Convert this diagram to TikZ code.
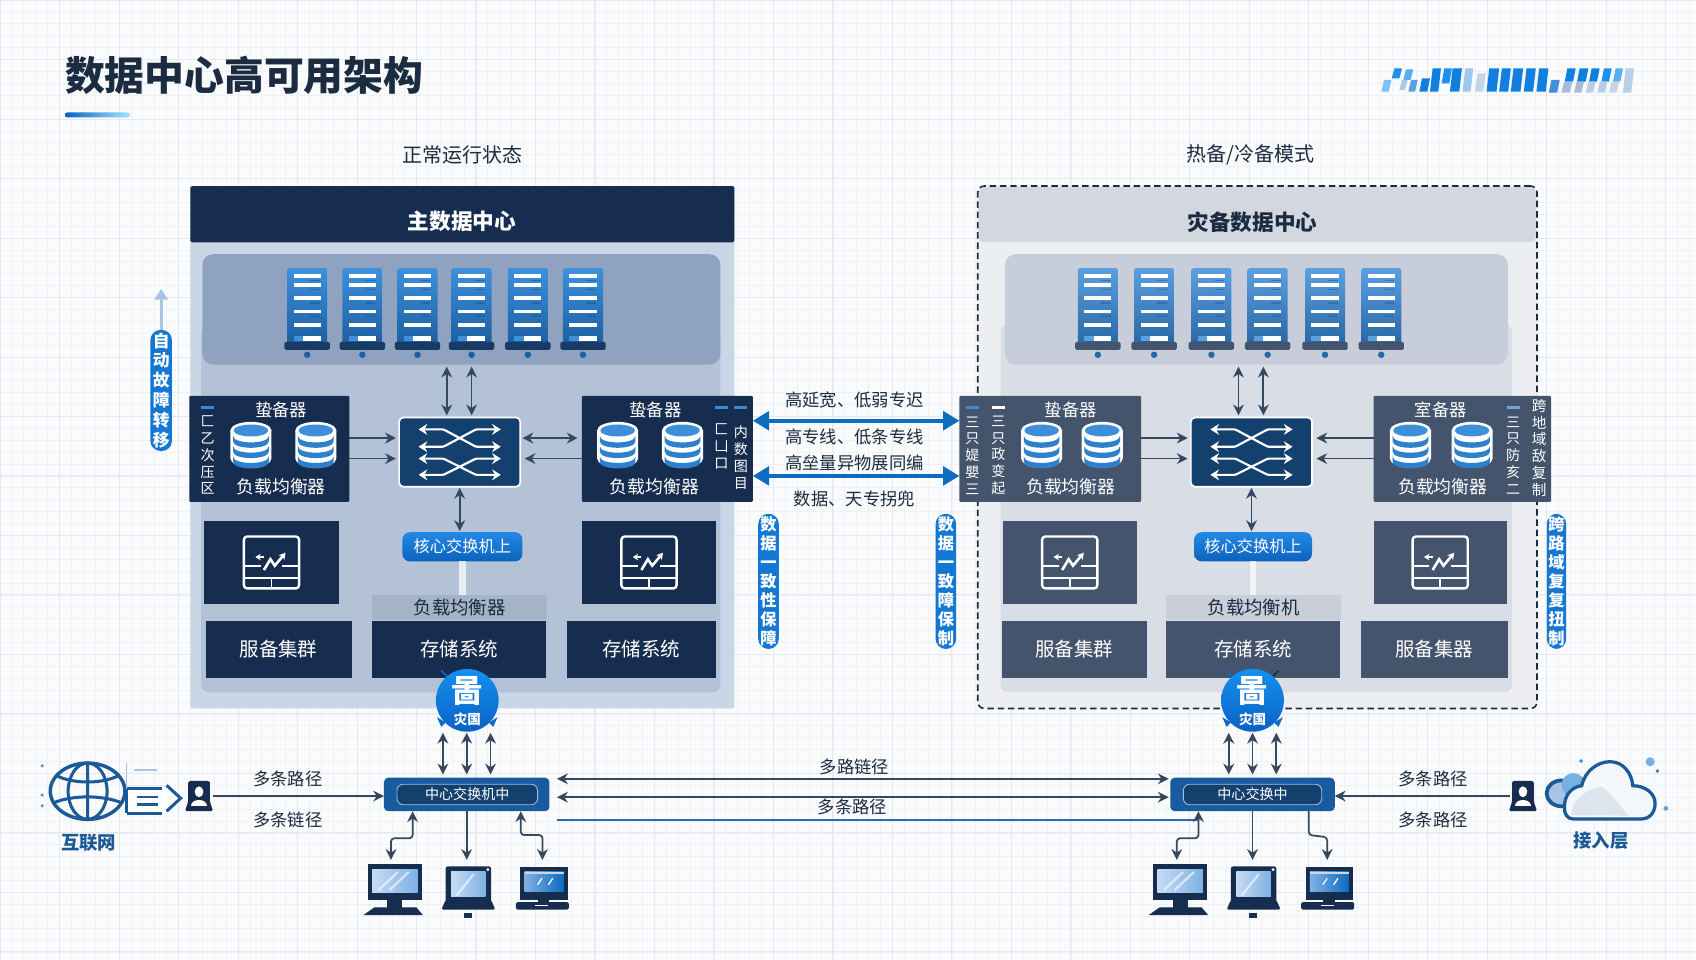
\documentclass[tikz,border=0pt]{standalone}
\usepackage{fontspec}
\setmainfont{Noto Sans CJK SC}
\usetikzlibrary{arrows.meta,calc}
\definecolor{navy}{HTML}{172D4F}
\definecolor{slatebox}{HTML}{43546C}
\definecolor{ink}{HTML}{1B2B40}
\definecolor{wire}{HTML}{34495F}
\definecolor{bluemain}{HTML}{0B6CC0}
\definecolor{bluedeep}{HTML}{1A5A96}
\definecolor{bglite}{HTML}{FAFBFC}
\definecolor{gridfine}{HTML}{EFF1F4}
\definecolor{gridmajor}{HTML}{E5E8EC}
\definecolor{screenl}{HTML}{C5DDF4}
\definecolor{screend}{HTML}{7FB0E3}
\newcommand{\hc}[1]{\definecolor{#1}{HTML}{#1}}
\hc{C9D6E6}\hc{B3C2D7}\hc{8FA3C0}\hc{3D90DC}\hc{1C5FA0}\hc{14406E}\hc{2389E6}\hc{0C62BC}\hc{A5B3C8}\hc{ECEEF2}\hc{D3D8E0}\hc{D9DDE5}\hc{C8CED9}\hc{5AA0E0}\hc{2A67A6}\hc{C9CED8}\hc{1577D4}\hc{1A5A9E}\hc{9CC0E8}\hc{1490F0}\hc{0A62C4}\hc{2B6CB0}\hc{2F80CC}\hc{3C8FD8}\hc{DCE4EE}\hc{F4F7FA}\hc{A9C4E2}
\tikzset{
  conn/.style={draw=wire,line width=1.6pt,-{Stealth[length=10pt,width=10pt]}},
  dbl/.style={draw=wire,line width=1.6pt,{Stealth[length=10pt,width=10pt]}-{Stealth[length=10pt,width=10pt]}},
  bigdbl/.style={draw=bluemain,line width=4pt,{Stealth[length=15pt,width=17pt,inset=0pt]}-{Stealth[length=15pt,width=17pt,inset=0pt]}},
  swarrow/.style={draw=white,line width=2pt,{Stealth[length=8pt,width=10pt]}-{Stealth[length=8pt,width=10pt]}},
  lab/.style={text=ink,font=\fontsize{16}{19}\selectfont,inner sep=0pt},
  vpill/.style={rounded corners=9.5pt,fill=#1,draw=none,text=white},
  vtxt/.style={text=white,align=center,inner sep=0pt,font=\fontsize{15.5}{18.4}\bfseries\selectfont},
  whitetxt/.style={text=white,font=\fontsize{18}{21}\selectfont},
  gcolumn/.style={text=white,align=center,inner sep=0pt,font=\fontsize{13}{15.5}\selectfont},
}
% box given by its corners
\newcommand{\bx}[7]{%
  \pgfmathsetmacro\bxX{((#2)+(#4))/2}\pgfmathsetmacro\bxY{((#3)+(#5))/2}%
  \pgfmathsetmacro\bxW{(#4)-(#2)}\pgfmathsetmacro\bxH{(#5)-(#3)}%
  \node[minimum width=\bxW pt,minimum height=\bxH pt,inner sep=0pt,outer sep=0pt,#6] (#1) at (\bxX,\bxY) {#7};}
% server rack
\newcommand{\rackicon}[5]{%
  \bx{#1}{#2-18.5}{248}{#2+18.5}{318}{rounded corners=1.5pt,top color=#3,bottom color=#4}{}%
  \foreach \yy in {255,263.5,275.6,288,300.5}{%
    \fill[white] (#2-12.5,\yy-1.8) rectangle (#2+12.5,\yy+1.8);
    \fill[#4,opacity=.7] (#2+3,\yy+3.5) rectangle (#2+12,\yy+5);}
  \fill[white] (#2-12.5,311) rectangle (#2+12.5,315);
  \fill[#3] (#2-12.5,311) rectangle (#2-4,315);
  \fill[#5,rounded corners=1.5pt] (#2-21,316) rectangle (#2+21,323.5);
  \fill[#4] (#2,328) circle (3);}
% database
\newcommand{\cyl}[2]{%
  \fill[white] (#1-19,#2-13) -- (#1-19,#2+13) .. controls (#1-19,#2+23) and (#1+19,#2+23) .. (#1+19,#2+13) -- (#1+19,#2-13) -- cycle;
  \fill[white] (#1,#2-13) ellipse [x radius=19pt,y radius=8pt];
  \foreach \ya in {-8,1.5,11}{%
    \fill[2F80CC] (#1-16.5,#2+\ya) .. controls (#1-16.5,#2+\ya+8) and (#1+16.5,#2+\ya+8) .. (#1+16.5,#2+\ya) -- (#1+16.5,#2+\ya+5) .. controls (#1+16.5,#2+\ya+13) and (#1-16.5,#2+\ya+13) .. (#1-16.5,#2+\ya+5) -- cycle;}
  \fill[3C8FD8] (#1,#2-13) ellipse [x radius=16pt,y radius=5.5pt];}
% glyph column beside a balancer
\newcommand{\glyphcol}[5]{%
  \fill[#4] (#2-6,375) rectangle (#2+6,378.5);
  \node[gcolumn] (#1) at (#2,#5) {#3};}
% balancer block
\newcommand{\lbbox}[9]{%
  \bx{#1}{#2}{366}{#3}{464}{fill=#4,rounded corners=1pt}{}%
  \node[text=white,inner sep=0pt,font=\fontsize{16}{19}\selectfont] (#1-t) at (#6,379) {#5};
  \node[text=white,inner sep=0pt,font=\fontsize{16.5}{20}\selectfont] (#1-b) at (#7,450) {负载均衡器};
  \cyl{#8}{411}\cyl{#9}{411}}
% switch icon
\newcommand{\swicon}[3]{%
  \bx{#1}{#2-56}{386}{#2+56}{450}{rounded corners=4pt,top color=#3,bottom color=#3,draw=white,line width=1.5pt}{}%
  \begin{scope}[shift={(#2,418)}]
    \foreach \ya/\yb in {-21/-5,6/21}{%
      \draw[swarrow,rounded corners=1pt] (-38,\ya) -- (-15,\ya) -- (15,\yb) -- (38,\yb);
      \draw[swarrow,rounded corners=1pt] (-38,\yb) -- (-15,\yb) -- (15,\ya) -- (38,\ya);}
  \end{scope}}
% tools icon in a dark box
\newcommand{\toolbox}[4]{%
  \bx{#1}{#2}{482}{#3}{558}{fill=#4}{}%
  \begin{scope}[shift={(#1.center)}]
    \draw[white,line width=2.2pt,rounded corners=3pt] (-25.5,-24) rectangle (25.5,24);
    \draw[white,line width=1.8pt] (-25.5,3) -- (-10,3) (10,3) -- (25.5,3) (-25.5,14) -- (25.5,14) (0,14) -- (0,24);
    \draw[white,line width=2.4pt,-{Stealth[length=6pt,width=7pt]}] (-7,7) -- (-1,-3) -- (3,3) -- (13,-9);
    \draw[white,line width=2pt,-{Stealth[length=5pt,width=6pt]}] (-7,-5) -- (-15,-5);
  \end{scope}}
% person
\newcommand{\person}[1]{%
  \fill[navy,rounded corners=1.5pt] (#1-10,722) -- (#1+10,722) -- (#1+10,741) -- (#1+13,750) -- (#1-13,750) -- (#1-10,741) -- cycle;
  \fill[white] (#1,732) ellipse [x radius=4pt,y radius=5pt];
  \fill[white] (#1-7,745) .. controls (#1-7,738) and (#1+7,738) .. (#1+7,745) -- cycle;}
% three computers, offset given
\newcommand{\computers}[1]{%
  \begin{scope}[shift={(#1,0)}]
    \fill[navy] (340,799) rectangle (390,832);
    \shade[left color=screenl,right color=screend] (344,804) rectangle (386,825);
    \draw[white,opacity=.6,line width=2pt] (350,823) -- (368,806) (360,823) -- (378,806);
    \fill[navy] (358,832) rectangle (372,840);
    \fill[navy] (346,839) -- (385,839) -- (391,846) -- (336,846) -- cycle;
    \fill[navy,rounded corners=2pt] (412,801) rectangle (454,835);
    \shade[left color=screenl,right color=screend] (417,806) rectangle (449,829);
    \draw[white,opacity=.6,line width=2pt] (422,828) -- (438,808);
    \fill[white] (451,804) circle (1.5);
    \fill[navy,rounded corners=1.5pt] (412,832) -- (454,832) -- (458,841) -- (408,841) -- cycle;
    \fill[navy] (429,844) rectangle (436,849);
    \fill[navy] (481,802) rectangle (525,832);
    \shade[left color=screend,right color=bluemain] (485,806) rectangle (521,824);
    \fill[white!80!navy] (485,806) rectangle (521,808);
    \draw[white,line width=1.2pt] (497,818) -- (501,812) (507,818) -- (511,812);
    \fill[navy] (497,830) rectangle (508,835);
    \fill[navy,rounded corners=1.5pt] (477,834) rectangle (526,841);
    \fill[white] (495,836.5) rectangle (507,838);
  \end{scope}}
\begin{document}
\begin{tikzpicture}[x=1pt,y=-1pt]
\useasboundingbox (0,0) rectangle (1568,887.55);
\fill[bglite] (0,0) rectangle (1568,887.55);
% background grid
\foreach \gx in {0,11,...,1568}{\draw[gridfine,line width=.6pt] (\gx,0) -- (\gx,887.55);}
\foreach \gy in {0,11,...,887}{\draw[gridfine,line width=.6pt] (0,\gy) -- (1568,\gy);}
\foreach \gx in {0,55,...,1568}{\draw[gridmajor,line width=.8pt] (\gx,0) -- (\gx,887.55);}
\foreach \gy in {0,55,...,887}{\draw[gridmajor,line width=.8pt] (0,\gy) -- (1568,\gy);}
% title
\node[anchor=west,inner sep=0pt,text=ink,font=\fontsize{36.8}{42}\bfseries\selectfont] (title) at (60,70) {数据中心高可用架构};
\bx{titlebar}{60}{104}{120}{108.5}{left color=bluemain!90!blue,right color=blue!30!cyan!35!white,rounded corners=2pt}{}
% corner deco
\begin{scope}[shift={(1239,37)},x=.3076pt,y=-.3076pt]
\foreach \xa/\ya/\yb/\wd/\col in {
 124/120/155/22/7CC0F5,155/85/115/23/1F8FEC,190/88/120/22/5AAEF0,178/120/150/17/AAC8E8,205/120/155/20/5AA0E0,
 238/115/155/24/0F7FE0,270/85/155/25/0F7FE0,305/85/130/23/2090F0,330/85/155/28/0F7FE0,368/85/155/24/9CC8F0,
 405/100/155/25/C5D5E8,440/85/155/30/0F7FE0,478/85/155/27/0F7FE0,513/85/155/29/0F7FE0,552/85/155/28/0F7FE0,
 590/85/155/28/0F7FE0,627/120/158/25/3F8FE0,675/85/125/25/0F7FE0,665/125/158/25/A5BDD8,712/85/125/26/0F7FE0,
 703/125/158/22/A5BDD8,748/85/125/24/0F7FE0,738/125/158/22/B8CFE5,785/85/125/23/2090F0,773/125/158/22/B8CFE5,
 820/85/125/22/5AAEF0,808/125/158/22/C5D5E8,850/85/158/25/B8CFE5}{%
  \definecolor{dcol}{HTML}{\col}
  \fill[dcol] (\xa+8,\ya) -- (\xa+8+\wd,\ya) -- (\xa+\wd,\yb) -- (\xa,\yb) -- cycle;}
\end{scope}
% state captions
\node[lab,font=\fontsize{18.5}{22}\selectfont] (capP) at (428,143) {正常运行状态};
\node[lab,font=\fontsize{18.5}{22}\selectfont] (capB) at (1156,143) {热备/冷备模式};

% ---------- primary data centre
\bx{pOuter}{176}{172}{679}{655}{fill=C9D6E6,rounded corners=2pt}{}
\bx{pHead}{176}{172}{679}{224}{fill=navy,rounded corners=1.5pt}{}
\node[text=white,inner sep=0pt,font=\fontsize{20}{24}\bfseries\selectfont] (pHeadT) at (427,205) {主数据中心};
\bx{pInner}{186}{300}{666}{640}{fill=B3C2D7,rounded corners=7pt}{}
\bx{pTop}{187}{235}{666}{337}{fill=8FA3C0,rounded corners=10pt}{}
\foreach \rx [count=\ri] in {284,335,386,436,488,539}{\rackicon{pr\ri}{\rx}{3D90DC}{1C5FA0}{navy!70!bluedeep}}
\lbbox{pL}{175}{323}{navy}{蛰备器}{260}{260}{232}{292}
\lbbox{pR}{538}{696}{navy}{蛰备器}{606}{605}{571}{631}
\glyphcol{pLg}{192}{匚\\乙\\次\\压\\区}{bluemain!80!white}{421}
\glyphcol{pRg1}{667}{匚\\凵\\口}{bluemain!80!white}{413}
\glyphcol{pRg2}{685}{内\\数\\图\\目}{bluemain!80!white}{423}
\swicon{pSw}{425}{14406E}
\draw[dbl,shorten >=2pt,shorten <=2pt] ([xshift=-12pt]pSw.north) -- ([xshift=-12pt]pSw.north |- pTop.south);
\draw[dbl,shorten >=2pt,shorten <=2pt] ([xshift=11pt]pSw.north) -- ([xshift=11pt]pSw.north |- pTop.south);
\draw[conn,shorten >=3pt] ([yshift=10pt]pL.east) -- ([yshift=10pt]pL.east -| pSw.west);
\draw[conn,shorten >=3pt] ([yshift=-9pt]pL.east) -- ([yshift=-9pt]pL.east -| pSw.west);
\draw[dbl,shorten >=2pt,shorten <=4pt] ([yshift=10pt]pR.west) -- ([yshift=10pt]pR.west -| pSw.east);
\draw[conn,shorten >=4pt] ([yshift=-9pt]pR.west) -- ([yshift=-9pt]pR.west -| pSw.east);
\toolbox{pT1}{189}{313}{navy}
\toolbox{pT2}{538}{662}{navy}
\bx{pPill}{372}{492}{483}{519}{rounded corners=7pt,top color=2389E6,bottom color=0C62BC,text=white,font=\fontsize{15}{18}\selectfont}{核心交换机上}
\bx{pGray}{344}{550}{506}{573}{fill=A5B3C8,text=ink,font=\fontsize{17}{20}\selectfont}{负载均衡器}
\draw[white,opacity=.7,line width=6pt] (pPill.south) -- (pPill.south |- pGray.north);
\draw[dbl,shorten >=1pt,shorten <=1pt] (pSw.south) -- (pSw.south |- pPill.north);
\bx{pS1}{190}{574}{325}{627}{fill=navy,whitetxt}{服备集群}
\bx{pS2}{344}{574}{505}{627}{fill=navy,whitetxt}{存储系统}
\bx{pS3}{524}{574}{662}{627}{fill=navy,whitetxt}{存储系统}

% ---------- backup data centre
\bx{bOuter}{904}{172}{1421}{655}{fill=ECEEF2,draw=ink,line width=1.5pt,dash pattern=on 6pt off 3.5pt,rounded corners=6pt}{}
\bx{bHead}{905}{173}{1420}{224}{fill=D3D8E0,rounded corners=5pt}{}
\node[text=ink,inner sep=0pt,font=\fontsize{20}{24}\bfseries\selectfont] (bHeadT) at (1158,205) {灾备数据中心};
\bx{bInner}{925}{300}{1398}{640}{fill=D9DDE5,rounded corners=7pt}{}
\bx{bTop}{929}{235}{1394}{337}{fill=C8CED9,rounded corners=10pt}{}
\foreach \rx [count=\ri] in {1015,1067,1120,1172,1225,1277}{\rackicon{br\ri}{\rx}{5AA0E0}{2A67A6}{slatebox}}
\lbbox{bL}{887}{1055}{slatebox}{蛰备器}{990}{990}{963}{1019}
\lbbox{bR}{1270}{1434}{slatebox}{室备器}{1332}{1334}{1304}{1361}
\glyphcol{bLg1}{899}{三\\只\\媞\\嬰\\三}{bluemain!80!white}{421}
\glyphcol{bLg2}{923}{三\\只\\政\\变\\起}{white}{421}
\glyphcol{bRg1}{1399}{三\\只\\防\\亥\\二}{bluemain!60!white}{421}
\node[text=white,align=center,inner sep=0pt,font=\fontsize{13.5}{15.5}\selectfont] (bRv) at (1423,414) {跨\\地\\域\\敌\\复\\制};
\swicon{bSw}{1157}{14406E}
\draw[dbl,shorten >=2pt,shorten <=2pt] ([xshift=-12pt]bSw.north) -- ([xshift=-12pt]bSw.north |- bTop.south);
\draw[dbl,shorten >=2pt,shorten <=2pt] ([xshift=11pt]bSw.north) -- ([xshift=11pt]bSw.north |- bTop.south);
\draw[conn,shorten >=3pt] ([yshift=10pt]bL.east) -- ([yshift=10pt]bL.east -| bSw.west);
\draw[conn,shorten >=3pt] ([yshift=-9pt]bL.east) -- ([yshift=-9pt]bL.east -| bSw.west);
\draw[conn,shorten >=4pt] ([yshift=10pt]bR.west) -- ([yshift=10pt]bR.west -| bSw.east);
\draw[conn,shorten >=4pt] ([yshift=-9pt]bR.west) -- ([yshift=-9pt]bR.west -| bSw.east);
\toolbox{bT1}{927}{1051}{slatebox}
\toolbox{bT2}{1270}{1393}{slatebox}
\bx{bPill}{1104}{492}{1213}{519}{rounded corners=7pt,top color=2389E6,bottom color=0C62BC,text=white,font=\fontsize{15}{18}\selectfont}{核心交换机上}
\bx{bGray}{1078}{550}{1240}{573}{fill=C9CED8,text=ink,font=\fontsize{17}{20}\selectfont}{负载均衡机}
\draw[white,opacity=.7,line width=6pt] (bPill.south) -- (bPill.south |- bGray.north);
\draw[dbl,shorten >=1pt,shorten <=1pt] (bSw.south) -- (bSw.south |- bPill.north);
\bx{bS1}{926}{574}{1060}{627}{fill=slatebox,whitetxt}{服备集群}
\bx{bS2}{1078}{574}{1239}{627}{fill=slatebox,whitetxt}{存储系统}
\bx{bS3}{1258}{574}{1394}{627}{fill=slatebox,whitetxt}{服备集器}

% ---------- mid links and labels
\draw[bigdbl] (pR.east |- 0,389) -- (bL.west |- 0,389);
\draw[bigdbl] (pR.east |- 0,440) -- (bL.west |- 0,440);
\node[lab] (m1) at (790,370) {高延宽、低弱专迟};
\node[lab] (m2) at (790,404) {高专线、低条专线};
\node[lab] (m3) at (790,428) {高垒量异物展同编};
\node[lab] (m4) at (790,461) {数据、天专拐兜};
% ---------- side pills
\bx{vA}{139}{305}{159}{417}{vpill=1577D4,vtxt}{自\\动\\故\\障\\转\\移}
\draw[draw=A9C4E2,line width=3pt,-{Stealth[length=10pt,width=12pt,inset=0pt]}] (vA.north) -- ++(0,-38);
\bx{vB}{701}{475}{720}{600}{vpill=1577D4,vtxt,font=\fontsize{15}{17.7}\bfseries\selectfont}{数\\据\\一\\致\\性\\保\\障}
\bx{vC}{865}{475}{884}{600}{vpill=1577D4,vtxt,font=\fontsize{15}{17.7}\bfseries\selectfont}{数\\据\\一\\致\\障\\保\\制}
\bx{vD}{1430}{475}{1448}{600}{vpill=1577D4,vtxt,font=\fontsize{15}{17.7}\bfseries\selectfont}{跨\\路\\域\\复\\复\\扭\\制}

% ---------- access layer
\bx{swL}{355}{719}{508}{750}{fill=1A5A9E,rounded corners=4pt}{}
\bx{swLi}{367}{725}{497}{744}{fill=14406E,draw=9CC0E8,line width=.8pt,rounded corners=6pt,text=white,font=\fontsize{13}{16}\selectfont}{中心交换机中}
\bx{swR}{1082}{719}{1234}{750}{fill=1A5A9E,rounded corners=4pt}{}
\bx{swRi}{1094}{725}{1222}{744}{fill=14406E,draw=9CC0E8,line width=.8pt,rounded corners=6pt,text=white,font=\fontsize{13}{16}\selectfont}{中心交换中}
% badges
\foreach \nm/\cx/\swn in {bdgL/432/swL,bdgR/1158/swR}{%
  \fill[bluemain] (\cx-28,663) -- (\cx-20,668) -- (\cx-24,672) -- cycle (\cx+28,663) -- (\cx+20,668) -- (\cx+24,672) -- cycle;
  \draw[bluemain,line width=1.5pt] (\cx-24,620) -- (\cx-18,626);
  \draw[navy,line width=1.5pt] (\cx+24,620) -- (\cx+19,625);
  \node[circle,minimum size=58pt,inner sep=0pt,outer sep=0pt,top color=1490F0,bottom color=0A62C4] (\nm) at (\cx,647.5) {};
  \node[text=white,inner sep=0pt,font=\fontsize{29}{32}\bfseries\selectfont] (\nm-g) at (\cx,639) {啚};
  \node[text=white,inner sep=0pt,font=\fontsize{12.5}{14}\bfseries\selectfont] (\nm-t) at (\cx,665) {灾国};
  \foreach \dx in {-22,0,22}{%
    \draw[dbl,shorten >=1pt,shorten <=3pt] ([xshift=\dx pt]\swn.north) -- ([xshift=\dx pt]\swn.north |- \nm.south);}
}
% links between switches
\draw[dbl,shorten >=1.5pt,shorten <=7pt] ([yshift=14.5pt]swL.east) -- ([yshift=14.5pt]swR.west);
\draw[dbl,shorten >=1.5pt,shorten <=7pt] ([yshift=-2.5pt]swL.east) -- ([yshift=-2.5pt]swR.west);
\coordinate (lowA) at (515,758);
\coordinate (lowB) at (1108,758);
\draw[draw=2B6CB0,line width=1.6pt] (lowA) -- (lowB);
\node[lab] (m5) at (790,709) {多路链径};
\node[lab] (m6) at (788,746) {多条路径};
% computers and their links
\computers{0}
\computers{726}
\coordinate (pcL1) at (361.5,795);\coordinate (pcL2) at (431.5,795);\coordinate (pcL3) at (501.5,795);
\coordinate (pcR1) at (1088,795);\coordinate (pcR2) at (1158,795);\coordinate (pcR3) at (1227,795);
\draw[dbl,rounded corners=3pt] ([xshift=-50pt]swL.south) -- ++(0,25) -- ++(-20,0) -- (pcL1);
\draw[conn] (swL.south) -- (pcL2);
\draw[dbl,rounded corners=3pt] ([xshift=50pt]swL.south) -- ++(0,22) -- ++(20,0) -- (pcL3);
\draw[dbl,rounded corners=3pt] ([xshift=-50pt]swR.south) -- ++(0,25) -- ++(-20,0) -- (pcR1);
\draw[conn] (swR.south) -- (pcR2);
\draw[conn,rounded corners=3pt] ([xshift=52pt]swR.south) -- ++(0,22) -- ++(17,2) -- (pcR3);
% internet side
\draw[bluedeep,line width=3.2pt] (81,731.5) ellipse [x radius=34.5pt,y radius=26pt];
\draw[bluedeep,line width=2.8pt] (81,731.5) ellipse [x radius=18pt,y radius=26pt];
\draw[bluedeep,line width=2.8pt] (81,705.5) -- (81,757.5) (52,717) .. controls (68,725) and (94,725) .. (110,717) (50,742) .. controls (68,735) and (94,735) .. (112,742);
\fill[white] (117,729) rectangle (154,752);
\draw[bluedeep,line width=2.2pt] (117,729) -- (150,729) (117,752) -- (150,752) (117,729) -- (117,752);
\draw[bluedeep,line width=2.4pt] (127,737) -- (146,737) (127,744) -- (146,744);
\draw[bluedeep,line width=2.8pt] (154,726) -- (167,738) -- (154,750);
\draw[A9C4E2,line width=1.2pt] (117,705) -- (117,729) (124,712) -- (145,712);
\foreach \dy in {708,735,745}{\fill[bluedeep!70!white] (39,\dy) circle (1.6);}
\node[inner sep=0pt,text=bluedeep,font=\fontsize{17}{20}\bfseries\selectfont] (netLab) at (82,779) {互联网};
\person{184}
\coordinate (personL) at (197,736);
\draw[conn] (personL) -- (personL -| swL.west);
\node[lab] (l1) at (266,720) {多条路径};
\node[lab] (l2) at (266,758) {多条链径};
% cloud side
\begin{scope}[shift={(1414.6,688.8)},x=.3082pt,y=-.3082pt]
  \draw[bluedeep,line width=3.5pt,fill=A9C4E2] (95,145) ellipse [x radius=14pt,y radius=12pt];
  \fill[3C8FD8!70!white] (130,120) circle (11pt);
  \draw[bluedeep,line width=3pt,fill=F4F7FA] (130,222) .. controls (110,222) and (102,205) .. (103,185) .. controls (103,150) and (125,125) .. (155,122) .. controls (165,75) and (205,50) .. (240,50) .. controls (280,50) and (305,85) .. (308,122) .. controls (345,122) and (375,145) .. (375,175) .. controls (375,205) and (355,222) .. (335,222) -- cycle;
  \fill[DCE4EE] (125,210) .. controls (120,170) and (170,130) .. (215,125) .. controls (250,150) and (275,190) .. (295,212) -- cycle;
  \fill[3C8FD8!70!white] (360,50) circle (4.2pt);
  \fill[3C8FD8] (153,48) circle (1.8pt);
  \fill[bluedeep!80!white] (382,78) circle (1.8pt);
  \fill[bluedeep!60!white] (407,190) circle (2.2pt);
\end{scope}
\node[inner sep=0pt,text=bluedeep,font=\fontsize{17}{20}\bfseries\selectfont] (acLab) at (1480,777) {接入层};
\person{1408}
\coordinate (personR) at (1396,736);
\draw[conn] (personR) -- (personR -| swR.east);
\node[lab] (r1) at (1325,720) {多条路径};
\node[lab] (r2) at (1325,758) {多条路径};
\end{tikzpicture}
\end{document}
